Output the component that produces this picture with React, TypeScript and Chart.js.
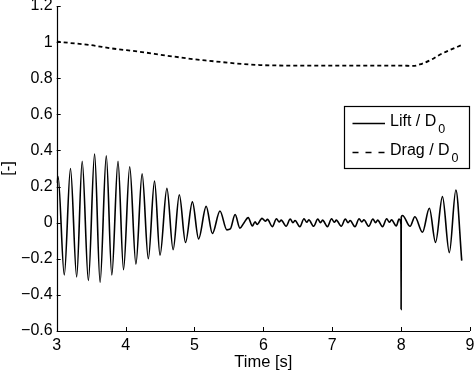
import React, { useEffect, useRef } from "react";
import { Chart, registerables } from "chart.js";

Chart.register(...registerables);

const liftTime = [
  3.0, 3.02, 3.11, 3.2, 3.29, 3.37, 3.46, 3.55, 3.63, 3.72, 3.8, 3.89, 3.97, 4.06, 4.15, 4.24, 4.33,
  4.42, 4.5, 4.6, 4.69, 4.78, 4.87, 4.97, 5.06, 5.17, 5.26, 5.37, 5.47, 5.52, 5.59, 5.66, 5.72,
  5.78, 5.84, 5.88, 5.91, 5.98, 6.03, 6.06, 6.13, 6.19, 6.23, 6.26, 6.33, 6.39, 6.43, 6.46, 6.53,
  6.59, 6.63, 6.66, 6.73, 6.79, 6.83, 6.86, 6.93, 6.99, 7.03, 7.06, 7.13, 7.19, 7.23, 7.26, 7.33,
  7.39, 7.43, 7.46, 7.53, 7.59, 7.63, 7.66, 7.73, 7.79, 7.83, 7.86, 7.93, 7.97, 7.998, 8.0, 8.002,
  8.02, 8.13, 8.2, 8.31, 8.41, 8.5, 8.6, 8.7, 8.795, 8.88,
];
const liftValue = [
  0.22, 0.255, -0.29, 0.3, -0.3, 0.34, -0.32, 0.38, -0.33, 0.37, -0.29, 0.34, -0.26, 0.31, -0.23, 0.27, -0.2,
  0.23, -0.18, 0.19, -0.15, 0.155, -0.11, 0.115, -0.09, 0.09, -0.06, 0.065, -0.04, -0.035, 0.045, -0.03, 0.0,
  0.028, -0.018, 0.005, -0.01, 0.024, 0.008, 0.018, -0.022, 0.022, 0.004, 0.014, -0.02, 0.02, 0.0, 0.012, -0.022,
  0.022, 0.002, 0.016, -0.02, 0.02, 0.0, 0.014, -0.022, 0.022, 0.002, 0.014, -0.02, 0.02, 0.0, 0.012, -0.022,
  0.022, 0.004, 0.016, -0.02, 0.02, 0.0, 0.014, -0.022, 0.022, 0.002, 0.016, -0.018, 0.02, -0.01, -0.48, 0.03,
  0.04, -0.02, 0.033, -0.053, 0.08, -0.109, 0.144, -0.166, 0.181, -0.21,
];

const dragTime = [3.0, 3.2, 3.5, 3.8, 4.2, 4.6, 5.0, 5.2, 5.6, 5.95, 6.5, 7.0, 7.5, 8.0, 8.17, 8.3, 8.45, 8.56, 8.7, 8.88];
const dragValue = [1.003, 0.995, 0.983, 0.965, 0.947, 0.925, 0.905, 0.897, 0.882, 0.873, 0.87, 0.87, 0.87, 0.87, 0.868, 0.88, 0.905, 0.93, 0.955, 0.984];

const xTicks = [3, 4, 5, 6, 7, 8, 9];
const yTicks = [-0.6, -0.4, -0.2, 0, 0.2, 0.4, 0.6, 0.8, 1.0, 1.2];
const xTitle = "Time [s]";
const yTitle = "[-]";
const seriesNames = ["Lift / D", "Drag / D"];
const seriesSub = "0";

const FONT = "'Liberation Sans', Arial, sans-serif";

function fmt(v: number) {
  const r = Math.round(v * 10) / 10;
  return String(r).replace("-", "\u2212");
}

export default function App() {
  const ref = useRef<HTMLCanvasElement | null>(null);
  useEffect(() => {
    if (!ref.current) return;
    const lift = liftTime.map((t, i) => ({ x: t, y: liftValue[i] }));
    const drag = dragTime.map((t, i) => ({ x: t, y: dragValue[i] }));

    const overlay = {
      id: "overlay",
      afterDraw(chart: any) {
        const ctx = chart.ctx as CanvasRenderingContext2D;
        const { left, right, top, bottom } = chart.chartArea;
        const xs = chart.scales.x;
        const ys = chart.scales.y;
        ctx.save();
        ctx.strokeStyle = "#000";
        ctx.lineWidth = 1.2;
        ctx.beginPath();
        ctx.moveTo(Math.round(left) + 0.5, top);
        ctx.lineTo(Math.round(left) + 0.5, Math.round(bottom) + 0.5);
        ctx.lineTo(right, Math.round(bottom) + 0.5);
        ctx.stroke();
        ctx.lineWidth = 1;
        ctx.beginPath();
        for (const v of xTicks) {
          const px = Math.round(xs.getPixelForValue(v)) + 0.5;
          ctx.moveTo(px, bottom);
          ctx.lineTo(px, bottom - 4);
        }
        for (const v of yTicks) {
          const py = Math.round(ys.getPixelForValue(v)) + 0.5;
          ctx.moveTo(left, py);
          ctx.lineTo(left + 4, py);
        }
        ctx.stroke();

        // legend
        const bx = 344.5, by = 106.5, bw = 125, bh = 62;
        ctx.fillStyle = "#fff";
        ctx.fillRect(bx, by, bw, bh);
        ctx.lineWidth = 1.2;
        ctx.strokeRect(bx, by, bw, bh);
        const rows = [123.5, 152.5];
        chart.data.datasets.forEach((ds: any, i: number) => {
          const y = rows[i];
          ctx.save();
          ctx.lineWidth = 1.3;
          ctx.setLineDash(i === 0 ? [] : [6, 7]);
          ctx.beginPath();
          ctx.moveTo(352.5, y);
          ctx.lineTo(385, y);
          ctx.stroke();
          ctx.restore();
          ctx.fillStyle = "#000";
          ctx.font = `16px ${FONT}`;
          ctx.textBaseline = "alphabetic";
          ctx.textAlign = "left";
          const txt = ds.label as string;
          ctx.fillText(txt, 390, y + 2);
          const w = ctx.measureText(txt).width;
          ctx.font = `12.5px ${FONT}`;
          ctx.fillText(seriesSub, 390 + w + 2, y + 9);
        });
        ctx.restore();
      },
    };

    const chart = new Chart(ref.current, {
      type: "line",
      data: {
        datasets: [
          {
            label: seriesNames[0],
            data: lift,
            borderColor: "#000",
            borderWidth: 1.6,
            pointRadius: 0,
            cubicInterpolationMode: "monotone",
            fill: false,
          },
          {
            label: seriesNames[1],
            data: drag,
            borderColor: "#000",
            borderWidth: 1.8,
            borderDash: [4, 3],
            pointRadius: 0,
            cubicInterpolationMode: "monotone",
            fill: false,
          },
        ],
      },
      options: {
        animation: false,
        responsive: false,
        devicePixelRatio: 1,
        layout: { padding: { left: 0, right: 4, top: 6, bottom: 0 } },
        plugins: { legend: { display: false }, tooltip: { enabled: false } },
        scales: {
          x: {
            type: "linear",
            min: 3,
            max: 9,
            afterBuildTicks: (s: any) => {
              s.ticks = xTicks.map((v) => ({ value: v }));
            },
            afterFit: (s: any) => {
              s.height = 40;
              s.paddingLeft = 0;
              s.paddingRight = 0;
            },
            grid: { display: false, drawTicks: false },
            border: { display: false },
            ticks: {
              color: "#000",
              font: { family: FONT, size: 16 },
              padding: 5,
              maxRotation: 0,
              autoSkip: false,
              callback: (v: any) => String(v),
            },
            title: {
              display: true,
              text: xTitle,
              color: "#000",
              font: { family: FONT, size: 16.5, lineHeight: 1 },
              padding: { top: 0, bottom: 0 },
            },
          },
          y: {
            type: "linear",
            min: -0.6,
            max: 1.2,
            afterBuildTicks: (s: any) => {
              s.ticks = yTicks.map((v) => ({ value: v }));
            },
            afterFit: (s: any) => {
              s.width = 56.7;
              s.paddingTop = 0;
              s.paddingBottom = 0;
            },
            grid: { display: false, drawTicks: false },
            border: { display: false },
            ticks: {
              color: "#000",
              font: { family: FONT, size: 16 },
              padding: 4,
              autoSkip: false,
              callback: (v: any) => fmt(Number(v)),
            },
            title: {
              display: true,
              text: yTitle,
              color: "#000",
              font: { family: FONT, size: 16.5, lineHeight: 1 },
              padding: { top: 0, bottom: 0 },
            },
          },
        },
      },
      plugins: [overlay],
    } as any);
    return () => chart.destroy();
  }, []);

  return (
    <div style={{ position: "fixed", left: 0, top: 0, width: 474, height: 371, background: "#fff" }}>
      <canvas ref={ref} width={474} height={371} style={{ width: 474, height: 371, display: "block" }} />
    </div>
  );
}
